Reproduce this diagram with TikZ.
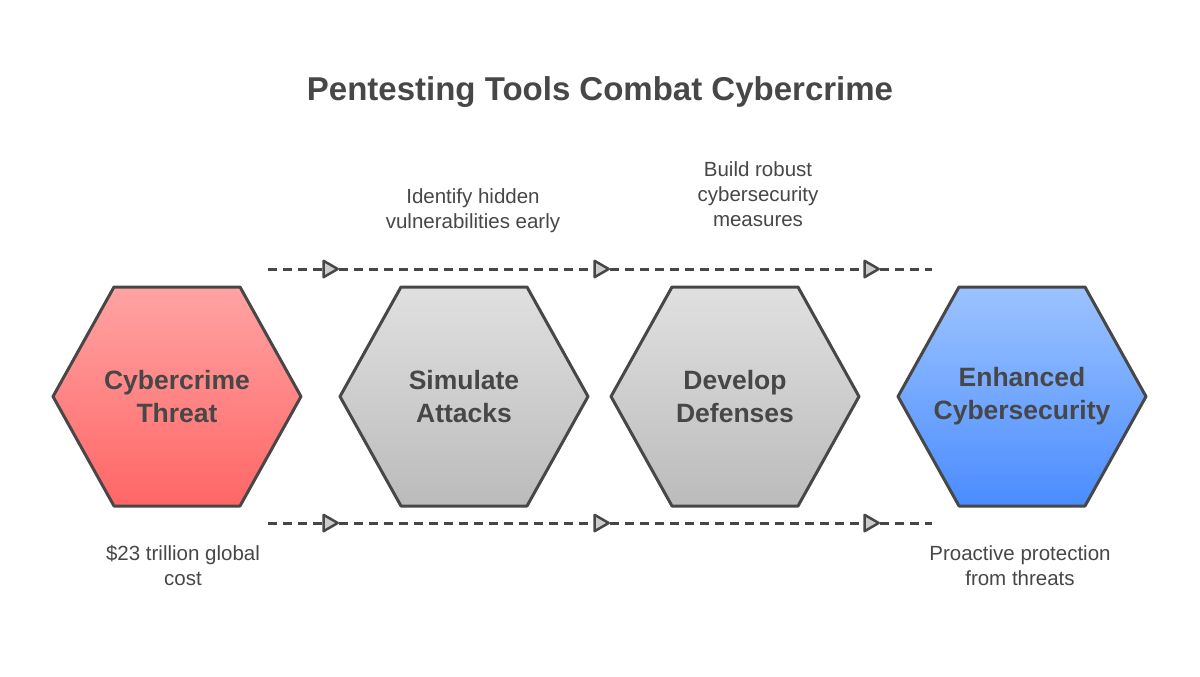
\documentclass[tikz,border=0pt]{standalone}
\usepackage{fontspec}
\setmainfont{Liberation Sans}
\usetikzlibrary{arrows.meta}
\definecolor{edge}{HTML}{474747}
\definecolor{txt}{HTML}{474747}
\definecolor{redtop}{HTML}{FFA3A3}
\definecolor{redbot}{HTML}{FF6666}
\definecolor{graytop}{HTML}{E0E0E0}
\definecolor{graybot}{HTML}{BBBBBB}
\definecolor{bluetop}{HTML}{9CC3FF}
\definecolor{bluebot}{HTML}{4A8CFF}
\definecolor{tipfill}{HTML}{CCCCCC}
\tikzset{
  hexlabel/.style={text=txt, font=\fontsize{26.5}{33}\selectfont\bfseries, align=center},
  note/.style={text=txt, font=\fontsize{20.5}{25}\selectfont, align=center},
  flow/.style={draw=edge, line width=3pt, dash pattern=on 9pt off 6pt},
  flowtip/.style={flow, -{Triangle[length=18pt,width=20pt,fill=tipfill,line width=2.5pt,round]}},
  hexedge/.style={draw=edge, line width=3pt, line join=round}
}
\newcommand{\hexat}[2]{%
  \path[hexedge, #2] (#1) ++(-124,0) -- ++(61,-109.5) -- ++(126,0) -- ++(61,109.5)
    -- ++(-61,109.5) -- ++(-126,0) -- cycle;}
\begin{document}
\begin{tikzpicture}[x=1pt,y=-1pt]
\useasboundingbox[fill=white] (0,0) rectangle (1200,677);
\node[text=txt, font=\fontsize{33}{40}\selectfont\bfseries] (title) at (600,92) {Pentesting Tools Combat Cybercrime};
% hexagon centres
\coordinate (h1) at (177,396.5);
\coordinate (h2) at (464,396.5);
\coordinate (h3) at (735,396.5);
\coordinate (h4) at (1022,396.5);
\hexat{h1}{top color=redtop, bottom color=redbot}
\hexat{h2}{top color=graytop, bottom color=graybot}
\hexat{h3}{top color=graytop, bottom color=graybot}
\hexat{h4}{top color=bluetop, bottom color=bluebot}
\node[hexlabel] (n1) at (h1) {Cybercrime\\Threat};
\node[hexlabel] (n2) at (h2) {Simulate\\Attacks};
\node[hexlabel] (n3) at (h3) {Develop\\Defenses};
\node[hexlabel] (n4) at (h4) {Enhanced\\Cybersecurity};
% flow lines
\foreach \r/\y in {a/269, b/523} {
  \coordinate (\r0) at (268,\y);
  \coordinate (\r1) at (339,\y);
  \coordinate (\r2) at (610,\y);
  \coordinate (\r3) at (880,\y);
  \coordinate (\r4) at (932,\y);
  \draw[flowtip] (\r0) -- (\r1);
  \draw[flowtip] (\r1) -- (\r2);
  \draw[flowtip] (\r2) -- (\r3);
  \draw[flow] (\r3) -- (\r4);
}
% notes
\node[note] (t2) at (473,211) {Identify hidden\\vulnerabilities early};
\node[note] (t3) at (758,194) {Build robust\\cybersecurity\\measures};
\node[note] (t1) at (183,565.5) {\$23 trillion global\\cost};
\node[note] (t4) at (1020,565.5) {Proactive protection\\from threats};
\end{tikzpicture}
\end{document}
